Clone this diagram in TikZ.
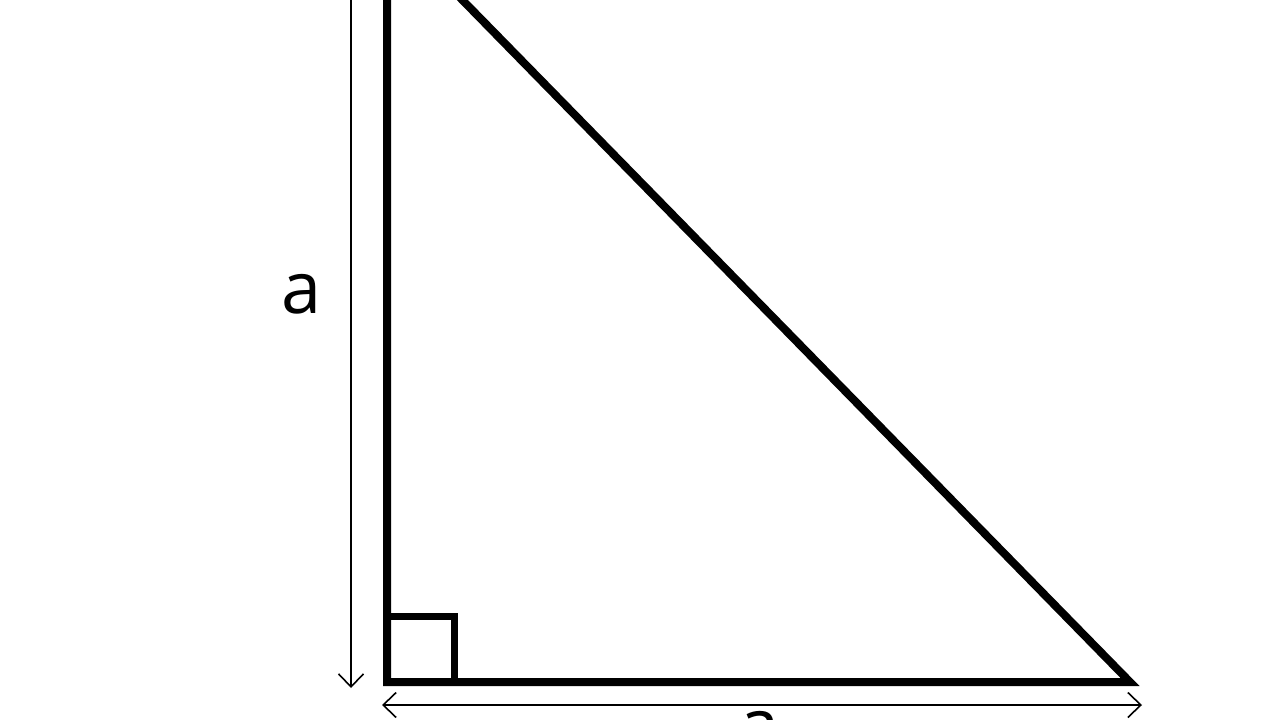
\documentclass[tikz,border=0pt]{standalone}
\usepackage{fontspec}
\setmainfont{Open Sans}
\usetikzlibrary{arrows.meta}
\tikzset{
  leg/.style={line width=8pt, line join=miter, line cap=rect},
  dimline/.style={line width=1.6pt, {Straight Barb[length=13pt,width=25pt,line width=1.6pt]}-{Straight Barb[length=13pt,width=25pt,line width=1.6pt]}},
  dimone/.style={line width=1.6pt, -{Straight Barb[length=13pt,width=25pt,line width=1.6pt]}},
  lbl/.style={font=\fontsize{72}{72}\selectfont, anchor=base, inner sep=0pt}
}
\begin{document}
\begin{tikzpicture}[x=1pt,y=-1pt]
\useasboundingbox (0,0) rectangle (1280,720);
\clip (0,0) rectangle (1280,720);
\fill[white] (0,0) rectangle (1280,720);
\coordinate (A) at (387,-77);
\coordinate (B) at (387,682);
\coordinate (C) at (1130,682);
\draw[leg] (A) -- (B) -- (C) -- cycle;
\coordinate (S1) at (387,616);
\coordinate (S2) at (454,616);
\coordinate (S3) at (454,682);
\draw[line width=7pt, line join=miter] (S1) -- (S2) -- (S3);
\coordinate (V1) at (351,-40);
\coordinate (V2) at (351,688);
\draw[dimone] (V1) -- (V2);
\coordinate (H1) at (382,705);
\coordinate (H2) at (1142,705);
\draw[dimline] (H1) -- (H2);
\node[lbl] (la) at (302,313) {a};
\node[lbl] (lb) at (760,750) {a};
\end{tikzpicture}
\end{document}
